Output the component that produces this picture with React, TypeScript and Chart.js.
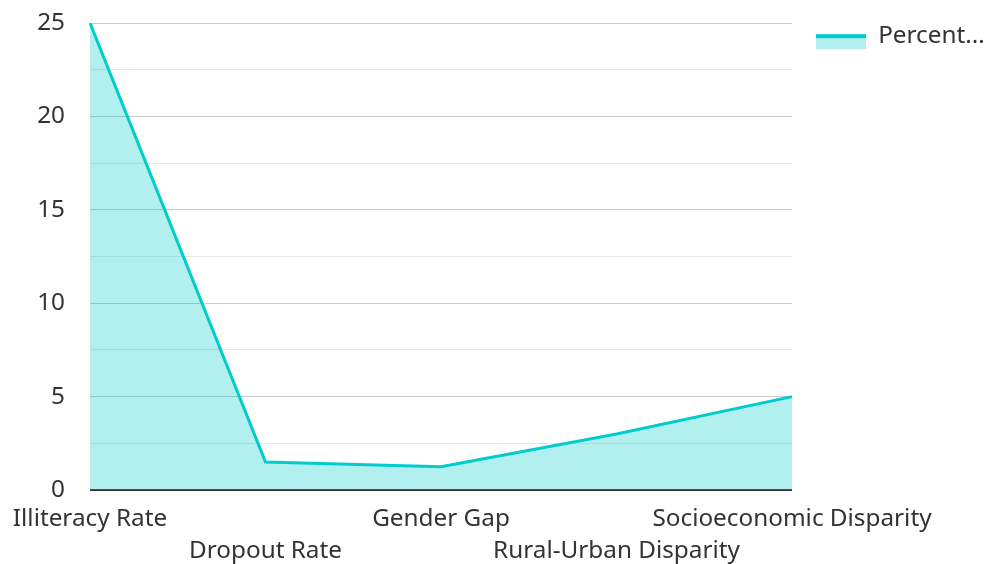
import React, { useEffect, useRef } from "react";
import { Chart, registerables } from "chart.js";

Chart.register(...registerables);

const categories = [
  "Illiteracy Rate",
  "Dropout Rate",
  "Gender Gap",
  "Rural-Urban Disparity",
  "Socioeconomic Disparity",
];
const percentValues = [25, 1.5, 1.25, 3, 5];
const seriesLabel = "Percent...";
const yMin = 0;
const yMax = 25;
const yStep = 2.5;
const yLabelEvery = 5;

const LINE = "rgb(0, 204, 204)";
const FILL = "rgba(0, 204, 204, 0.3)";
const FONT = "'Noto Sans', 'Open Sans', sans-serif";
const FS = 24.3;

function makeLegendSwatch(): HTMLCanvasElement {
  const c = document.createElement("canvas");
  c.width = 50;
  c.height = 28;
  const g = c.getContext("2d")!;
  g.fillStyle = FILL;
  g.fillRect(0, 15, 50, 12);
  g.fillStyle = LINE;
  g.fillRect(0, 12, 50, 4);
  return c;
}

export default function App() {
  const ref = useRef<HTMLCanvasElement | null>(null);
  useEffect(() => {
    if (!ref.current) return;
    const swatch = makeLegendSwatch();
    const chart = new Chart(ref.current, {
      type: "line",
      data: {
        labels: categories,
        datasets: [
          {
            label: seriesLabel,
            data: percentValues,
            borderColor: LINE,
            backgroundColor: FILL,
            borderWidth: 3,
            fill: "origin",
            tension: 0,
            pointRadius: 0,
            pointHoverRadius: 0,
            pointStyle: swatch as any,
          },
        ],
      },
      options: {
        animation: false,
        responsive: true,
        maintainAspectRatio: false,
        layout: { padding: { left: 0, top: 0, right: 2, bottom: 0 } },
        plugins: {
          tooltip: { enabled: false },
          legend: {
            position: "right",
            align: "start",
            maxWidth: 193,
            labels: {
              usePointStyle: true,
              pointStyleWidth: 50,
              padding: 24,
              color: "#333",
              font: { family: FONT, size: FS },
            },
          },
        },
        scales: {
          x: {
            grid: { display: false },
            border: { display: false },
            afterFit: (s: any) => {
              s.paddingLeft = 0;
              s.paddingRight = 0;
              s.height = 74;
            },
            ticks: {
              autoSkip: false,
              maxRotation: 0,
              minRotation: 0,
              padding: 5,
              color: "#333",
              font: { family: FONT, size: FS, lineHeight: 32 / FS },
              callback: (_v: any, i: number) =>
                i % 2 === 1 ? ["", categories[i]] : categories[i],
            },
          },
          y: {
            min: yMin,
            max: yMax,
            border: { display: false },
            afterFit: (s: any) => {
              s.width = 90;
              s.paddingTop = 23;
              s.paddingBottom = 0;
            },
            grid: {
              drawTicks: false,
              color: (ctx: any) => {
                const v = ctx.tick?.value ?? 0;
                if (v === 0) return "#333";
                return v % yLabelEvery === 0 ? "#c8c8c8" : "#e6e6e6";
              },
              lineWidth: (ctx: any) => ((ctx.tick?.value ?? 0) === 0 ? 2 : 1),
            },
            ticks: {
              stepSize: yStep,
              padding: 25,
              color: "#333",
              font: { family: FONT, size: FS },
              callback: (v: any) => (Number(v) % yLabelEvery === 0 ? String(v) : ""),
            },
          },
        },
      },
    });
    return () => chart.destroy();
  }, []);
  return (
    <div style={{ position: "fixed", left: 0, top: 0, width: 987, height: 564 }}>
      <canvas ref={ref} />
    </div>
  );
}
